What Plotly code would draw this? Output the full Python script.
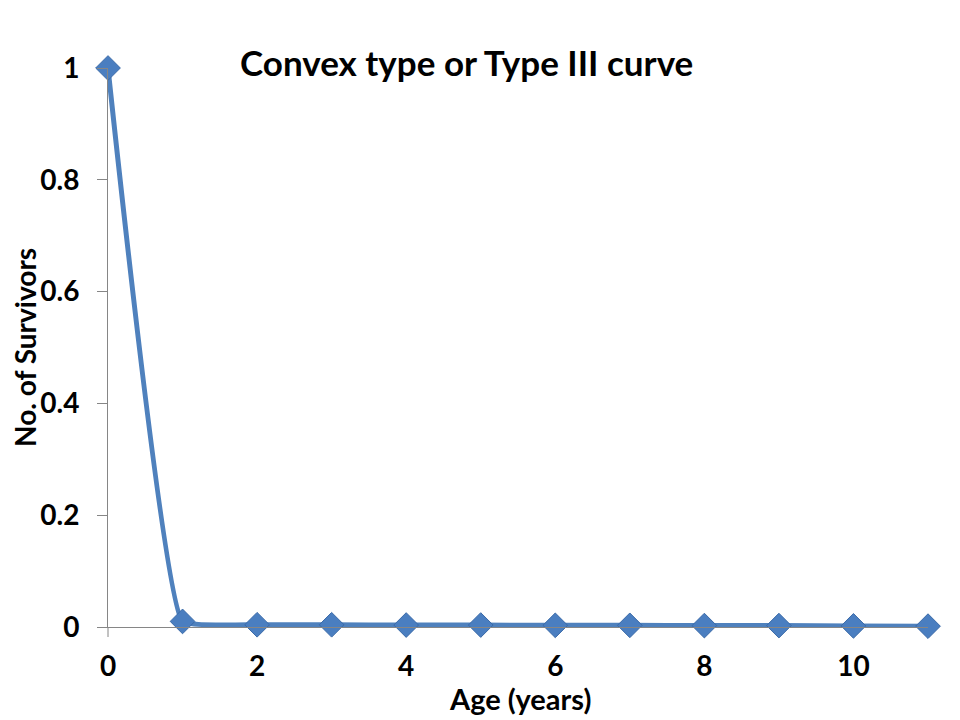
import plotly.graph_objects as go

ages = [0, 1, 2, 3, 4, 5, 6, 7, 8, 9, 10, 11]
survivors = [1.0, 0.01, 0.004, 0.004, 0.0035, 0.0035, 0.003, 0.003, 0.0025, 0.0025, 0.002, 0.0015]
x_ticks = [0, 2, 4, 6, 8, 10]
y_ticks = [0, 0.2, 0.4, 0.6, 0.8, 1]
y_tick_labels = ["0", "0.2", "0.4", "0.6", "0.8", "1"]

blue = "#4F81BD"
font_family = "Lato, 'Open Sans', 'DejaVu Sans', sans-serif"

fig = go.Figure()
fig.add_trace(go.Scatter(
    x=ages, y=survivors, mode="lines",
    line=dict(color=blue, width=5, shape="spline", smoothing=0.3),
    hoverinfo="skip", showlegend=False,
))
fig.add_trace(go.Scatter(
    x=ages, y=survivors, mode="markers",
    marker=dict(symbol="diamond", size=19, color="#4A7EC0",
                line=dict(color="#3A6AA8", width=1)),
    cliponaxis=False, showlegend=False,
))

fig.update_layout(
    width=960, height=720,
    paper_bgcolor="white", plot_bgcolor="white",
    margin=dict(l=108, r=32, t=68, b=93, autoexpand=False),
    font=dict(family=font_family, color="black"),
    showlegend=False,
    annotations=[
        dict(text="<b>Convex type or Type III curve</b>", xref="paper", yref="paper",
             x=(466 - 108) / 820, y=1 + 6 / 559, xanchor="center", yanchor="middle", showarrow=False,
             font=dict(size=35, family=font_family, color="black")),
        dict(text="<b>Age (years)</b>", xref="paper", yref="paper",
             x=(520 - 108) / 820, y=-(698 - 627) / 559, xanchor="center", yanchor="middle",
             showarrow=False, font=dict(size=29, family=font_family, color="black")),
        dict(text="<b>No. of Survivors</b>", xref="paper", yref="paper", textangle=-90,
             x=-(108 - 25) / 820, y=(627 - 348) / 559, xanchor="center", yanchor="middle",
             showarrow=False, font=dict(size=28, family=font_family, color="black")),
    ],
    shapes=[
        dict(type="line", xref="paper", yref="paper", x0=0, x1=0,
             y0=-10 / 559, y1=0, line=dict(color="#868686", width=1)),
    ],
)
fig.update_xaxes(
    range=[0, 11], tickvals=x_ticks, ticktext=[f"<b>{v}</b>" for v in x_ticks],
    showgrid=False, zeroline=False, showline=True, linecolor="#868686", linewidth=1,
    ticks="", ticklabelstandoff=14, automargin=False,
    tickfont=dict(size=28, family=font_family, color="black"),
)
fig.update_yaxes(
    range=[0, 1], tickvals=y_ticks, ticktext=[f"<b>{t}</b>" for t in y_tick_labels],
    showgrid=False, zeroline=False, showline=True, linecolor="#868686", linewidth=1,
    ticks="outside", ticklen=10, tickcolor="#868686", ticklabelstandoff=12, automargin=False,
    tickfont=dict(size=28, family=font_family, color="black"),
)

fig.write_html("out.html", config={"displayModeBar": False},
               post_script="document.body.style.margin='0';")
